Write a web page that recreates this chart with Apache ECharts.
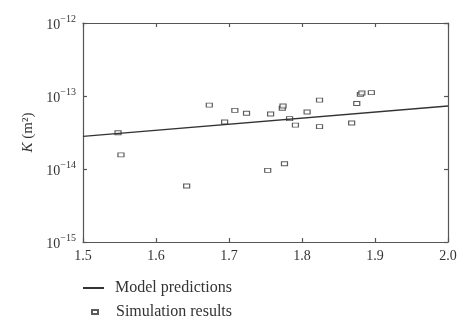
<!DOCTYPE html>
<html><head><meta charset="utf-8">
<script src="https://cdn.jsdelivr.net/npm/echarts@6/dist/echarts.min.js"></script>
<style>html,body{margin:0;padding:0;background:#fff}#c{width:474px;height:333px}</style>
</head><body><div id="c"></div>
<script>
// Simulation results: [x, K (m^2)]
const simX = [1.548, 1.552, 1.642, 1.673, 1.694, 1.708, 1.724, 1.753, 1.757, 1.773, 1.774, 1.776, 1.783, 1.791, 1.807, 1.824, 1.824, 1.868, 1.875, 1.880, 1.882, 1.895];
const simK = [3.14e-14, 1.56e-14, 5.85e-15, 7.5e-14, 4.4e-14, 6.37e-14, 5.8e-14, 9.6e-15, 5.67e-14, 6.8e-14, 7.3e-14, 1.18e-14, 4.89e-14, 4.0e-14, 6.04e-14, 8.8e-14, 3.8e-14, 4.27e-14, 7.9e-14, 1.05e-13, 1.1e-13, 1.11e-13];
// Model predictions (straight on log scale)
const modelX = [1.5, 2.0];
const modelK = [2.8e-14, 7.3e-14];
const xTicks = [1.5, 1.6, 1.7, 1.8, 1.9, 2.0];
const yExponents = [-12, -13, -14, -15];

const FONT = '"Liberation Serif", "DejaVu Serif", serif';
const C = '#333';
const chart = echarts.init(document.getElementById('c'), null, {renderer: 'canvas'});
const axisLineStyle = {color: '#555', width: 1.2};
const yLabel = {
  color: C, margin: 7,
  formatter: v => { const e = Math.round(Math.log10(v)); return '{b|10}{s|−' + Math.abs(e) + '}'; },
  rich: {
    b: {fontFamily: FONT, fontSize: 14, color: C, verticalAlign: 'bottom', lineHeight: 18},
    s: {fontFamily: FONT, fontSize: 10, color: C, verticalAlign: 'top', lineHeight: 18}
  }
};
chart.setOption({
  animation: false,
  backgroundColor: '#fff',
  grid: {left: 83, right: 26, top: 23, bottom: 91},
  xAxis: [{
    type: 'value', min: 1.5, max: 2.0, interval: 0.1,
    axisLine: {show: true, lineStyle: axisLineStyle},
    axisTick: {show: true, inside: true, length: 4, lineStyle: axisLineStyle},
    splitLine: {show: false},
    axisLabel: {color: C, fontFamily: FONT, fontSize: 14, margin: 7, formatter: v => v.toFixed(1)}
  }, {
    type: 'value', position: 'top', min: 1.5, max: 2.0, interval: 0.1,
    axisLine: {show: true, lineStyle: axisLineStyle},
    axisTick: {show: true, inside: true, length: 4, lineStyle: axisLineStyle},
    splitLine: {show: false}, axisLabel: {show: false}
  }],
  yAxis: [{
    type: 'log', logBase: 10, min: 1e-15, max: 1e-12,
    axisLine: {show: true, lineStyle: axisLineStyle},
    axisTick: {show: true, inside: true, length: 4, lineStyle: axisLineStyle},
    minorTick: {show: false}, splitLine: {show: false},
    axisLabel: yLabel,
    name: '{k|K} (m²)', nameLocation: 'middle', nameGap: 44, nameRotate: 90,
    nameTextStyle: {fontFamily: FONT, fontSize: 15, color: C, rich: {k: {fontFamily: FONT, fontSize: 15, fontStyle: 'italic', color: C}}}
  }, {
    type: 'log', logBase: 10, min: 1e-15, max: 1e-12, position: 'right',
    axisLine: {show: true, lineStyle: axisLineStyle},
    axisTick: {show: true, inside: true, length: 4, lineStyle: axisLineStyle},
    splitLine: {show: false}, axisLabel: {show: false}
  }],
  legend: [{
    data: ['Model predictions'], left: 83, top: 280, orient: 'vertical', padding: 0,
    itemWidth: 21, itemHeight: 2, icon: 'rect',
    textStyle: {fontFamily: FONT, fontSize: 16, color: C, padding: [0, 0, 0, 6]}
  }, {
    data: ['Simulation results'], left: 91, top: 304, orient: 'vertical', padding: 0,
    itemWidth: 6, itemHeight: 4, icon: 'rect',
    textStyle: {fontFamily: FONT, fontSize: 16, color: C, padding: [0, 0, 0, 13]}
  }],
  series: [{
    name: 'Model predictions', type: 'line', symbol: 'none',
    lineStyle: {color: '#333', width: 1.3}, itemStyle: {color: '#333'},
    data: modelX.map((x, i) => [x, modelK[i]])
  }, {
    name: 'Simulation results', type: 'scatter', symbol: 'rect', symbolSize: [6, 4],
    itemStyle: {color: '#fff', borderColor: '#333', borderWidth: 1},
    data: simX.map((x, i) => [x, simK[i]])
  }]
});
</script></body></html>
